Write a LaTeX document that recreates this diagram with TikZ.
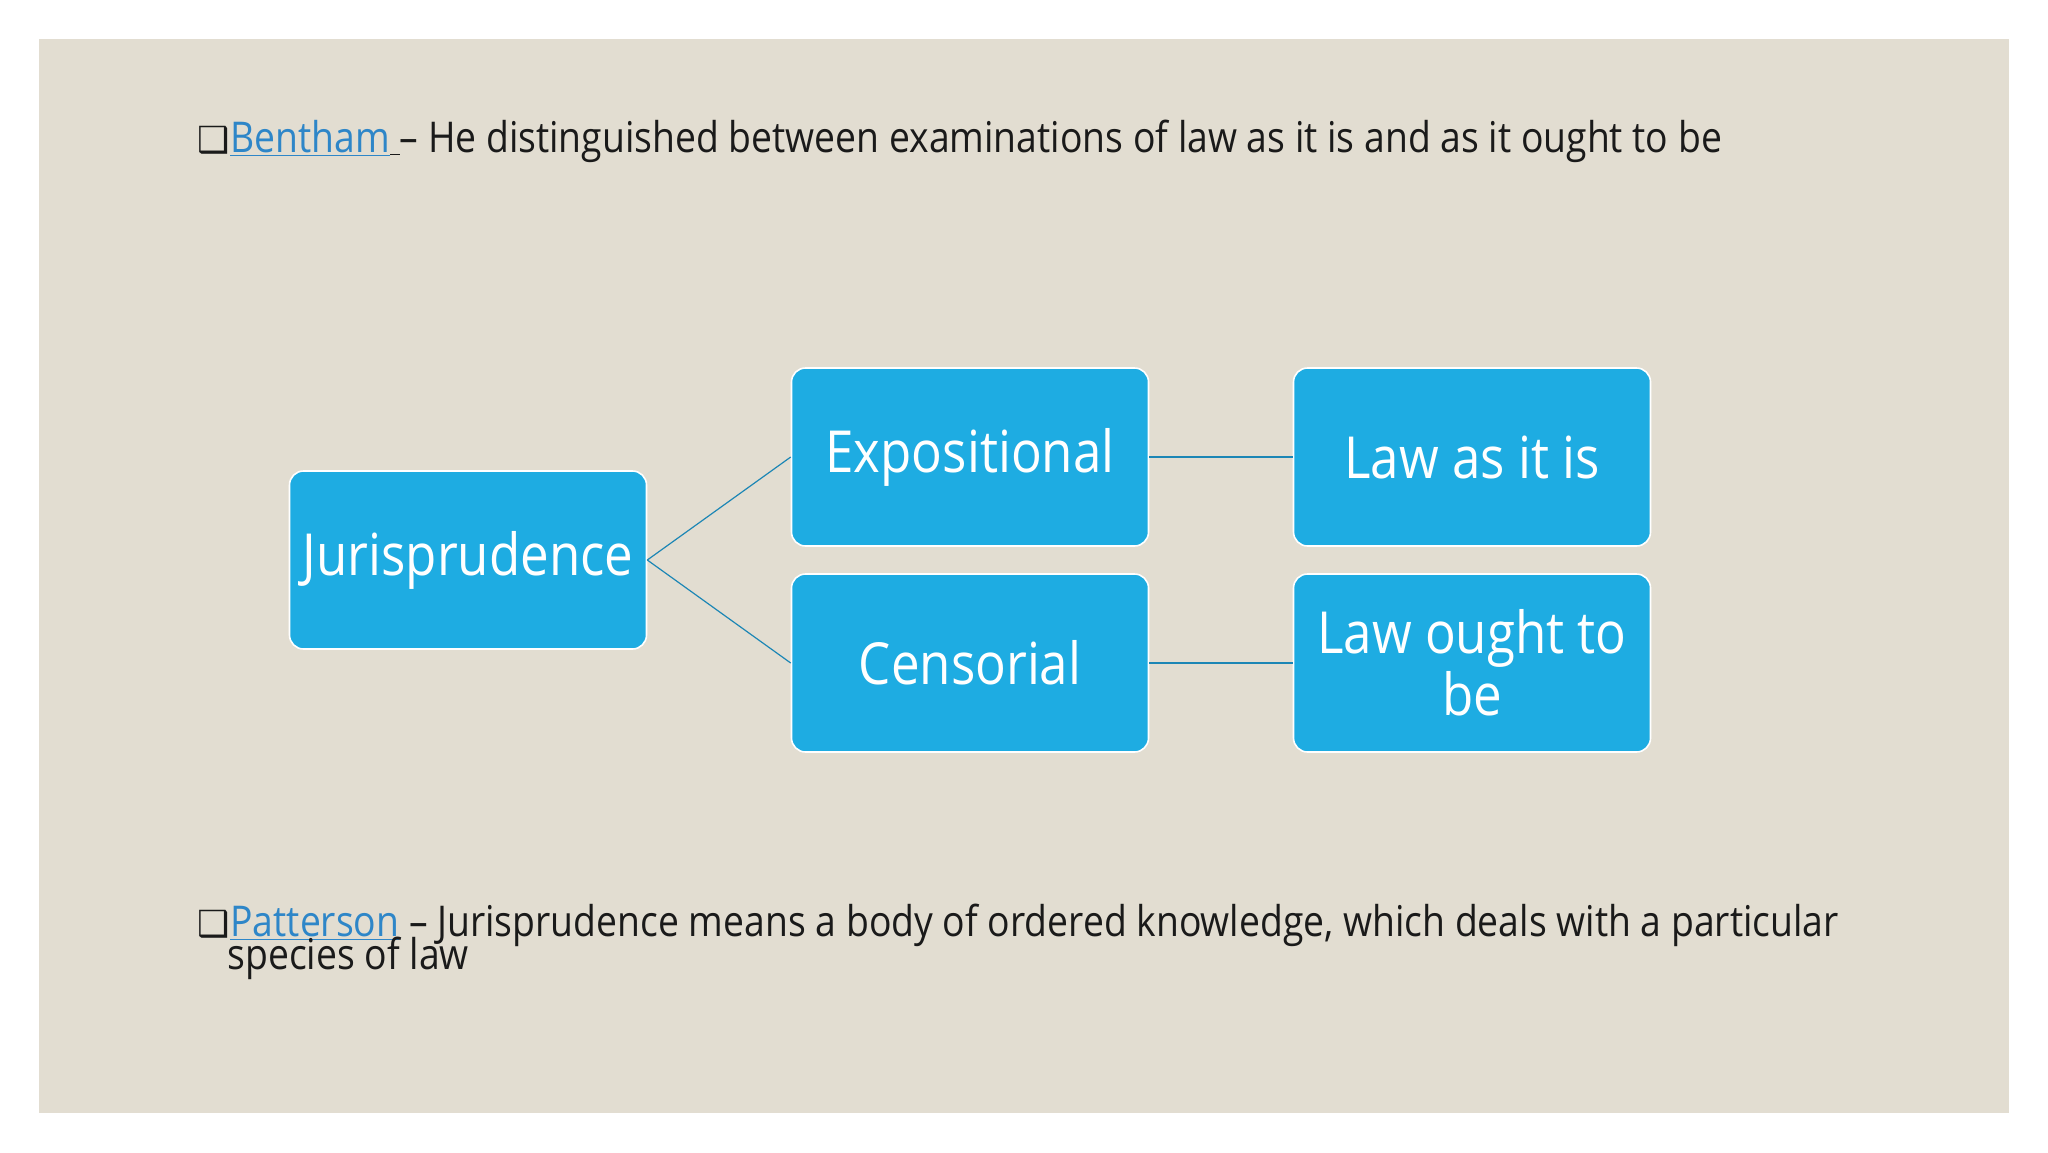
\documentclass[tikz,border=0pt]{standalone}
\usepackage{fontspec}
\setmainfont[FakeStretch=0.88]{Open Sans}
\newfontfamily\symfont{DejaVu Sans}
\definecolor{slidebg}{HTML}{E2DDD1}
\definecolor{boxblue}{HTML}{1EACE2}
\definecolor{linecol}{HTML}{1C86B5}
\definecolor{linkblue}{HTML}{2E86C8}
\definecolor{textcol}{HTML}{1A1A1A}
\begin{document}
\begin{tikzpicture}[x=0.5pt,y=-0.5pt,
  box/.style={draw=white, line width=0.8pt, fill=boxblue, rounded corners=7pt, text=white,
    minimum width=178.5pt, minimum height=89pt, inner sep=0pt, align=center,
    font=\fontsize{29}{31}\selectfont},
  conn/.style={draw=linecol, line width=0.6pt},
  bodytext/.style={inner sep=0pt, anchor=base west, text=textcol, font=\fontsize{21.2}{16.5}\selectfont},
  bullet/.style={inner sep=0pt, anchor=base west, text=textcol, font=\symfont\fontsize{18}{18}\selectfont}]
\useasboundingbox (0,0) rectangle (2048,1152);
\fill[white] (0,0) rectangle (2048,1152);
\fill[slidebg] (39,39) rectangle (2009,1113);

\node[box] (jur) at (468,560) {Jurisprudence};
\node[box] (exp) at (970,457) {Expositional};
\node[box] (cen) at (970,663) {Censorial};
\node[box] (lai) at (1472,457) {Law as it is};
\node[box] (lob) at (1472,663) {Law ought to\\be};

\draw[conn] (jur.east) -- (exp.west);
\draw[conn] (jur.east) -- (cen.west);
\draw[conn] (exp.east) -- (lai.west);
\draw[conn] (cen.east) -- (lob.west);

\node[bullet] (b1) at (197,152) {❑};
\node[bodytext] (t1) at (b1.base east)
  {{\color{linkblue}\underline{Bentham}}\underline{\ }– He distinguished between examinations of law as it is and as it ought to be};

\node[bullet] (b2) at (197,936) {❑};
\node[bodytext] (t2) at (b2.base east)
  {{\color{linkblue}\underline{Patterson}} – Jurisprudence means a body of ordered knowledge, which deals with a particular};
\node[bodytext] (t3) at ([xshift=-1.5pt,yshift=-16.5pt]b2.base east) {species of law};
\end{tikzpicture}
\end{document}
